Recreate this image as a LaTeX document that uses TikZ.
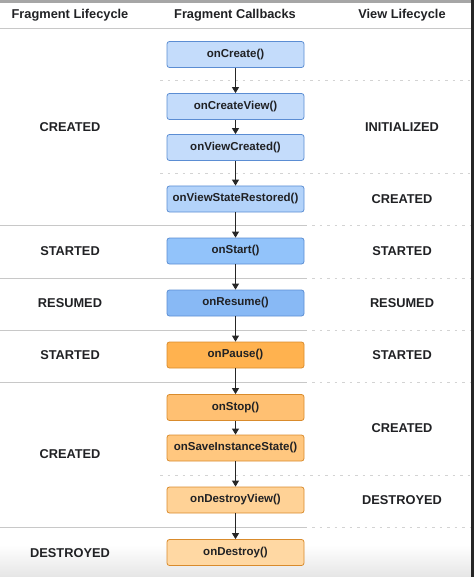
\documentclass[tikz,border=0pt]{standalone}
\usepackage{fontspec}
\setmainfont{Liberation Sans}
\usetikzlibrary{arrows.meta}
\definecolor{bluelt}{HTML}{C4DCFB}
\definecolor{bluemd}{HTML}{B3D3FA}
\definecolor{bluedk}{HTML}{92C3FA}
\definecolor{bluedk2}{HTML}{88B9F5}
\definecolor{blueline}{HTML}{5B8DD3}
\definecolor{or1}{HTML}{FFB24F}
\definecolor{or2}{HTML}{FFC072}
\definecolor{or3}{HTML}{FFC77F}
\definecolor{or4}{HTML}{FFD296}
\definecolor{or5}{HTML}{FFD8A3}
\definecolor{orline}{HTML}{D98B2C}
\definecolor{sepgray}{HTML}{C8C8C8}
\definecolor{txt}{HTML}{202124}
\begin{document}
\begin{tikzpicture}[x=1pt,y=-1pt,
  cb/.style={draw, rounded corners=2.5pt, line width=0.8pt, minimum width=137pt, minimum height=26pt, inner sep=0pt, font=\bfseries\fontsize{11.5}{13}\selectfont, text=txt},
  bcb/.style={cb, draw=blueline},
  ocb/.style={cb, draw=orline},
  lab/.style={font=\bfseries\fontsize{12.8}{14}\selectfont, text=txt},
  hdr/.style={font=\bfseries\fontsize{12.8}{14}\selectfont, text=txt},
  solidsep/.style={draw=sepgray, line width=1pt},
  dotsep/.style={draw=sepgray!80, line width=0.9pt, dash pattern=on 2.5pt off 5pt},
  flow/.style={draw=black!85, line width=0.9pt, -{Triangle[length=6pt,width=7pt]}}]
\useasboundingbox (0,0) rectangle (474,577);
% bottom shading
\shade[top color=white, bottom color=black!10] (0,545) rectangle (474,577);
% top bar and borders
\fill[black!35] (0,0) rectangle (474,3);
\fill[black!85] (471,0) rectangle (474,577);
\draw[solidsep] (0,28.5) -- (471,28.5);
% headers
\node[hdr] (h1) at (70,15) {Fragment Lifecycle};
\node[hdr] (h2) at (235,15) {Fragment Callbacks};
\node[hdr] (h3) at (402,15) {View Lifecycle};
% separators
\draw[dotsep] (160,80.5) -- (471,80.5);
\draw[dotsep] (160,173) -- (471,173);
\foreach \yy in {225.5,278,330,382,527}{
  \draw[solidsep] (0,\yy) -- (307,\yy);
  \draw[dotsep] (312,\yy) -- (471,\yy);
}
\draw[dotsep] (160,475) -- (471,475);
% callbacks
\node[bcb, fill=bluelt] (c1) at (235.5,54.5) {onCreate()};
\node[bcb, fill=bluelt] (c2) at (235.5,106.5) {onCreateView()};
\node[bcb, fill=bluelt] (c3) at (235.5,147.5) {onViewCreated()};
\node[bcb, fill=bluemd] (c4) at (235.5,199) {onViewStateRestored()};
\node[bcb, fill=bluedk] (c5) at (235.5,251) {onStart()};
\node[bcb, fill=bluedk2] (c6) at (235.5,303) {onResume()};
\node[ocb, fill=or1] (c7) at (235.5,355) {onPause()};
\node[ocb, fill=or2] (c8) at (235.5,407.5) {onStop()};
\node[ocb, fill=or3] (c9) at (235.5,448) {onSaveInstanceState()};
\node[ocb, fill=or4] (c10) at (235.5,500) {onDestroyView()};
\node[ocb, fill=or5] (c11) at (235.5,552.5) {onDestroy()};
\foreach \a/\b in {c1/c2,c2/c3,c3/c4,c4/c5,c5/c6,c6/c7,c7/c8,c8/c9,c9/c10,c10/c11}
  \draw[flow] (\a) -- (\b);
% fragment lifecycle
\node[lab] (f1) at (70,127) {CREATED};
\node[lab] (f2) at (70,251) {STARTED};
\node[lab] (f3) at (70,303) {RESUMED};
\node[lab] (f4) at (70,355) {STARTED};
\node[lab] (f5) at (70,454) {CREATED};
\node[lab] (f6) at (70,553) {DESTROYED};
% view lifecycle
\node[lab] (v1) at (402,127) {INITIALIZED};
\node[lab] (v2) at (402,199) {CREATED};
\node[lab] (v3) at (402,251) {STARTED};
\node[lab] (v4) at (402,303) {RESUMED};
\node[lab] (v5) at (402,355) {STARTED};
\node[lab] (v6) at (402,428) {CREATED};
\node[lab] (v7) at (402,500) {DESTROYED};
\end{tikzpicture}
\end{document}
